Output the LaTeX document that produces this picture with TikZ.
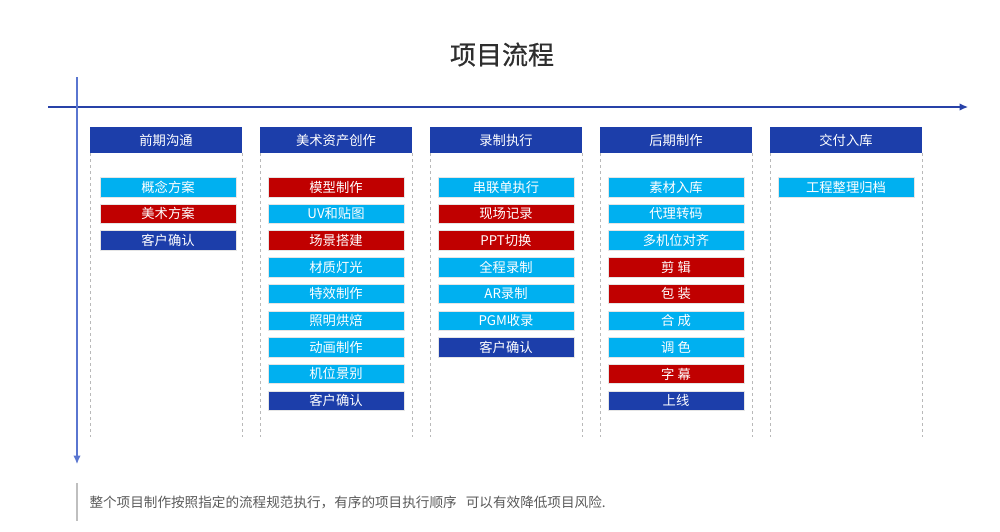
\documentclass[tikz,border=0pt]{standalone}
\usepackage{fontspec}
\setmainfont{Noto Sans CJK SC}
\newfontfamily\titlefont{Noto Sans CJK SC}[FakeBold=0.6]
\usepackage{xcolor}
\usetikzlibrary{arrows.meta,positioning}

\definecolor{hdrblue}{RGB}{28,62,170}
\definecolor{itemcyan}{RGB}{0,176,240}
\definecolor{itemred}{RGB}{192,0,0}
\definecolor{axisblue}{RGB}{40,66,168}
\definecolor{axislight}{RGB}{90,118,208}

\begin{document}
\begin{tikzpicture}[
  x=1pt, y=-1pt,
  node distance=26.7pt,
  on grid,
  font=\fontsize{13.3}{15}\selectfont,
  % Node styles
  header/.style={rectangle, fill=hdrblue, text=white, minimum width=152pt, minimum height=26pt, inner sep=0pt},
  item/.style={rectangle, draw=white!80!gray, line width=0.4pt, text=white, minimum width=136pt, minimum height=19.5pt, inner sep=0pt},
  cyanitem/.style={item, fill=itemcyan},
  reditem/.style={item, fill=itemred},
  blueitem/.style={item, fill=hdrblue},
  colline/.style={draw=gray!55, dashed, line width=0.6pt},
  axis/.style={-{Latex[length=8.5pt,width=7.5pt]}, line width=1.2pt}
]
  \useasboundingbox (0,0) rectangle (1000,531);

  % ============================================
  % Title and axes
  % ============================================
  \node[font=\titlefont\fontsize{26}{28}\selectfont, text=black!82] (title) at (502,54.5) {项目流程};

  \coordinate (hstart) at (48,107);
  \coordinate (hend) at (968,107);
  \coordinate (vstart) at (77,77);
  \coordinate (vend) at (77,464);
  \draw[axis, color=axisblue] (hstart) -- (hend);
  \draw[axis, color=axislight] (vstart) -- (vend);

  % ============================================
  % Column headers
  % ============================================
  \node[header] (h1) at (166,140) {前期沟通};
  \node[header] (h2) at (336,140) {美术资产创作};
  \node[header] (h3) at (506,140) {录制执行};
  \node[header] (h4) at (676,140) {后期制作};
  \node[header] (h5) at (846,140) {交付入库};

  % Column borders
  \draw[colline] (h1.south west) -- ++(0,284);
  \draw[colline] (h1.south east) -- ++(0,284);
  \draw[colline] (h2.south west) -- ++(0,284);
  \draw[colline] (h2.south east) -- ++(0,284);
  \draw[colline] (h3.south west) -- ++(0,284);
  \draw[colline] (h3.south east) -- ++(0,284);
  \draw[colline] (h4.south west) -- ++(0,284);
  \draw[colline] (h4.south east) -- ++(0,284);
  \draw[colline] (h5.south west) -- ++(0,284);
  \draw[colline] (h5.south east) -- ++(0,284);

  % ============================================
  % Column 1: 前期沟通
  % ============================================
  \node[cyanitem, below=47pt of h1, xshift=2pt] (a1) {概念方案};
  \node[reditem, below=of a1] (a2) {美术方案};
  \node[blueitem, below=of a2] (a3) {客户确认};

  % ============================================
  % Column 2: 美术资产创作
  % ============================================
  \node[reditem, below=47pt of h2] (b1) {模型制作};
  \node[cyanitem, below=of b1] (b2) {UV和贴图};
  \node[reditem, below=of b2] (b3) {场景搭建};
  \node[cyanitem, below=of b3] (b4) {材质灯光};
  \node[cyanitem, below=of b4] (b5) {特效制作};
  \node[cyanitem, below=of b5] (b6) {照明烘焙};
  \node[cyanitem, below=of b6] (b7) {动画制作};
  \node[cyanitem, below=of b7] (b8) {机位景别};
  \node[blueitem, below=of b8] (b9) {客户确认};

  % ============================================
  % Column 3: 录制执行
  % ============================================
  \node[cyanitem, below=47pt of h3] (c1) {串联单执行};
  \node[reditem, below=of c1] (c2) {现场记录};
  \node[reditem, below=of c2] (c3) {PPT切换};
  \node[cyanitem, below=of c3] (c4) {全程录制};
  \node[cyanitem, below=of c4] (c5) {AR录制};
  \node[cyanitem, below=of c5] (c6) {PGM收录};
  \node[blueitem, below=of c6] (c7) {客户确认};

  % ============================================
  % Column 4: 后期制作
  % ============================================
  \node[cyanitem, below=47pt of h4] (d1) {素材入库};
  \node[cyanitem, below=of d1] (d2) {代理转码};
  \node[cyanitem, below=of d2] (d3) {多机位对齐};
  \node[reditem, below=of d3] (d4) {剪 辑};
  \node[reditem, below=of d4] (d5) {包 装};
  \node[cyanitem, below=of d5] (d6) {合 成};
  \node[cyanitem, below=of d6] (d7) {调 色};
  \node[reditem, below=of d7] (d8) {字 幕};
  \node[blueitem, below=of d8] (d9) {上线};

  % ============================================
  % Column 5: 交付入库
  % ============================================
  \node[cyanitem, below=47pt of h5] (e1) {工程整理归档};

  % ============================================
  % Footnote
  % ============================================
  \coordinate (bartop) at (77,483);
  \coordinate (barbot) at (77,521);
  \draw[gray!50, line width=1.2pt] (bartop) -- (barbot);
  \node[anchor=west, text=black!65, font=\fontsize{13.6}{15}\selectfont] (note) at (86,502) {整个项目制作按照指定的流程规范执行，有序的项目执行顺序\ \ \ 可以有效降低项目风险.};

\end{tikzpicture}
\end{document}
